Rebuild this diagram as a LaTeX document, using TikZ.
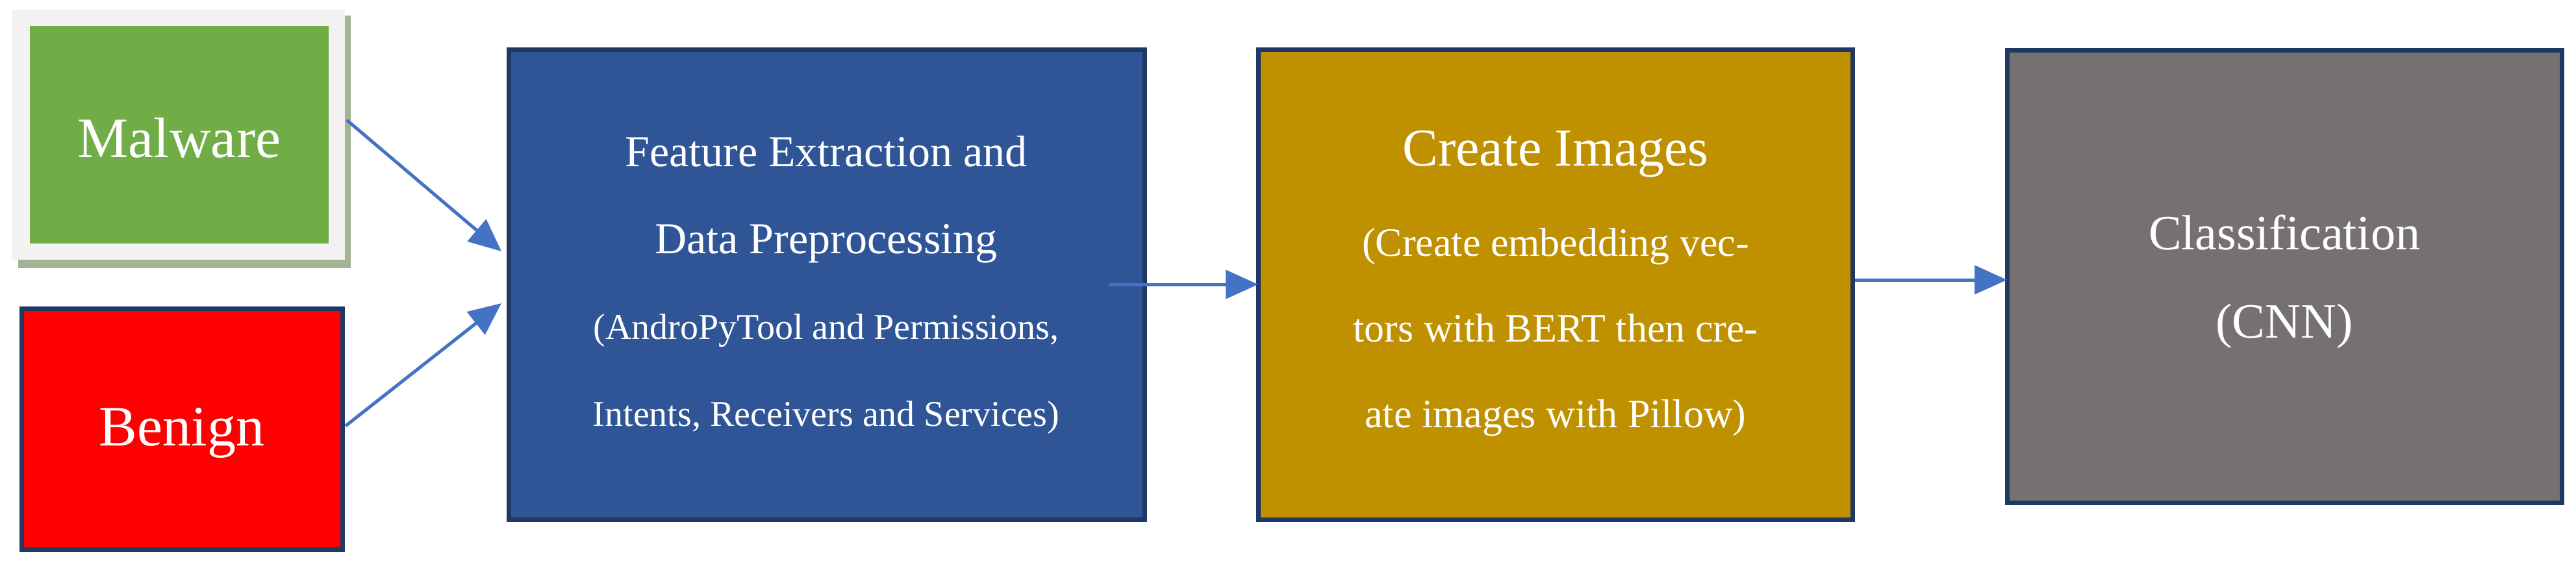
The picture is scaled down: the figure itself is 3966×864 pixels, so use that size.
\documentclass[tikz,border=0pt]{standalone}
\usepackage{fontspec}
\setmainfont{Liberation Serif}
\usetikzlibrary{arrows.meta}
\definecolor{cgreen}{HTML}{70AD47}
\definecolor{cblue}{HTML}{2F5597}
\definecolor{cgold}{HTML}{BF9000}
\definecolor{cgray}{HTML}{767171}
\definecolor{cnavy}{HTML}{1F3864}
\definecolor{carrow}{HTML}{4472C4}
\definecolor{cframe}{HTML}{F2F2F2}
\definecolor{cshadow}{HTML}{A3B394}
\tikzset{
  box/.style={draw=cnavy,line width=7pt},
  lbl/.style={text=white,align=center,inner sep=0pt},
  arr/.style={draw=carrow,line width=5pt,-{Triangle[length=50pt,width=44pt]},shorten >=0pt}
}
\begin{document}
\begin{tikzpicture}[x=1pt,y=-1pt]
\useasboundingbox[fill=white] (0,0) rectangle (3966,864);
% Malware
\fill[cshadow] (28,24) rectangle (540,413);
\fill[cframe] (19,15) rectangle (531,400);
\fill[cgreen] (46,40) rectangle (506,375);
\node[lbl,font=\fontsize{88}{100}\selectfont] (mal) at (276,212) {Malware};
\coordinate (malE) at (534,185);
% Benign
\filldraw[box,fill=red] (33,475) rectangle (527,846);
\node[lbl,font=\fontsize{88}{100}\selectfont] (ben) at (280,667) {Benign};
\coordinate (benE) at (532,656);
% Feature
\filldraw[box,fill=cblue] (783,77) rectangle (1762,800);
\node[lbl,font=\fontsize{68}{134}\selectfont] (feat) at (1272,307) {Feature Extraction and\\Data Preprocessing};
\node[lbl,font=\fontsize{56}{134}\selectfont] (featsub) at (1272,576) {(AndroPyTool and Permissions,\\Intents, Receivers and Services)};
\coordinate (f1) at (772,387);
\coordinate (f2) at (772,467);
\coordinate (fo) at (1708,438);
% Create Images
\filldraw[box,fill=cgold] (1937,77) rectangle (2852,800);
\node[lbl,font=\fontsize{82}{100}\selectfont] (ci) at (2395,237) {Create Images};
\node[lbl,font=\fontsize{62}{132}\selectfont] (cisub) at (2395,512) {(Create embedding vec-\\tors with BERT then cre-\\ate images with Pillow)};
\coordinate (ciW) at (1937,438);
\coordinate (ciE) at (2856,431);
% Classification
\filldraw[box,fill=cgray] (3090,78) rectangle (3944,774);
\node[lbl,font=\fontsize{76}{136}\selectfont] (cl) at (3517,434) {Classification\\(CNN)};
\coordinate (clW) at (3090,431);
\draw[arr] (malE) -- (f1);
\draw[arr] (benE) -- (f2);
\draw[arr] (fo) -- (ciW);
\draw[arr] (ciE) -- (clW);
\end{tikzpicture}
\end{document}
